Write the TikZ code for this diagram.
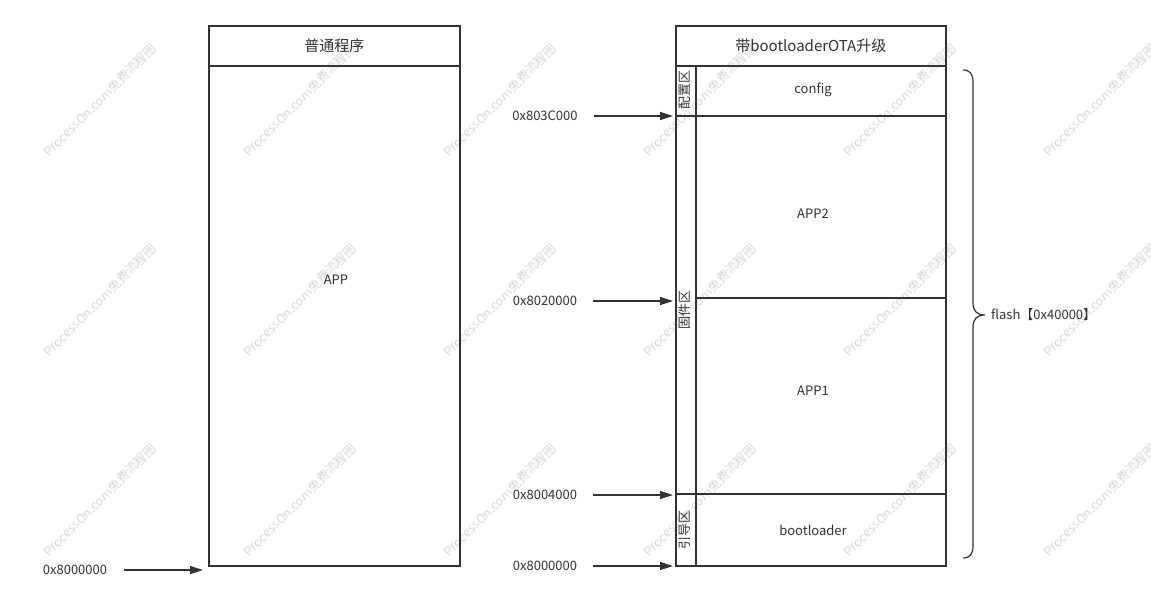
\documentclass[tikz,border=0pt]{standalone}
\usepackage{fontspec}
\setmainfont{Noto Sans CJK SC}
\usetikzlibrary{arrows.meta}
\definecolor{ink}{HTML}{333333}
\definecolor{wm}{HTML}{D9D9D9}
\tikzset{
  region/.style={draw=ink, line width=1.6pt, inner sep=0pt, anchor=north west},
  lbl/.style={text=ink, font=\fontsize{13}{15}\selectfont, inner sep=1pt},
  hdr/.style={text=ink, font=\fontsize{15}{17}\selectfont},
  side/.style={text=ink, font=\fontsize{13}{15}\selectfont, rotate=90, inner sep=0pt},
  arr/.style={draw=ink, line width=1.2pt, -{Triangle[length=13pt,width=8pt]}},
  wmark/.style={text=wm, font=\fontsize{12.5}{14}\selectfont, rotate=45, inner sep=0pt}
}
\begin{document}
\begin{tikzpicture}[x=1pt,y=-1pt]
\useasboundingbox[fill=white] (0,0) rectangle (1151,614);
% watermarks
\foreach \wx in {100,300,500,700,900,1100}{
  \foreach \wy in {100,300,500}{
    \node[wmark] at (\wx,\wy) {ProcessOn.com免费流程图};
  }
}
% left column
\node[region, minimum width=251pt, minimum height=40pt] (lh) at (208,25) {};
\node[hdr] at (lh.center) {普通程序};
\node[region, minimum width=251pt, minimum height=500pt] (lb) at (208,65) {};
\node[lbl] (app) at (336,280) {APP};
% right column
\node[region, minimum width=270pt, minimum height=40pt] (rh) at (675,25) {};
\node[hdr] at (rh.center) {带bootloaderOTA升级};
\node[region, minimum width=20pt, minimum height=50pt] (s1) at (675,65) {};
\node[region, minimum width=20pt, minimum height=378pt] (s2) at (675,115) {};
\node[region, minimum width=20pt, minimum height=72pt] (s3) at (675,493) {};
\node[side] at (685,90) {配置区};
\node[side] at (685,310) {固件区};
\node[side] at (685,530) {引导区};
\node[region, minimum width=250pt, minimum height=50pt] (c1) at (695,65) {};
\node[region, minimum width=250pt, minimum height=182pt] (c2) at (695,115) {};
\node[region, minimum width=250pt, minimum height=196pt] (c3) at (695,297) {};
\node[region, minimum width=250pt, minimum height=72pt] (c4) at (695,493) {};
\node[lbl] at (813,90) {config};
\node[lbl] at (813,214) {APP2};
\node[lbl] at (813,391) {APP1};
\node[lbl] at (813,530) {bootloader};
% addresses
\node[lbl] (a1) at (545,116) {0x803C000};
\node[lbl] (a2) at (545,301) {0x8020000};
\node[lbl] (a3) at (545,495) {0x8004000};
\node[lbl] (a4) at (545,566) {0x8000000};
\node[lbl] (a0) at (75,570) {0x8000000};
\coordinate (e1) at (673,116);
\coordinate (e2) at (673,301);
\coordinate (e3) at (673,495);
\coordinate (e4) at (673,566);
\coordinate (e0) at (203,570);
\draw[arr] ([xshift=15pt]a1.east) -- (e1);
\draw[arr] ([xshift=15pt]a2.east) -- (e2);
\draw[arr] ([xshift=15pt]a3.east) -- (e3);
\draw[arr] ([xshift=15pt]a4.east) -- (e4);
\draw[arr] ([xshift=16pt]a0.east) -- (e0);
% brace
\coordinate (bt) at (963,70);
\coordinate (bb) at (963,558);
\coordinate (tip) at (985,315);
\draw[draw=ink, line width=1.2pt] (bt) .. controls (970,70) and (973,74) .. (973,82) -- (973,303)
  .. controls (973,311) and (977,315) .. (tip)
  .. controls (977,315) and (973,319) .. (973,327) -- (973,546)
  .. controls (973,554) and (970,558) .. (bb);
\node[lbl, anchor=west] (fl) at (990,315) {flash【0x40000】};
\end{tikzpicture}
\end{document}
